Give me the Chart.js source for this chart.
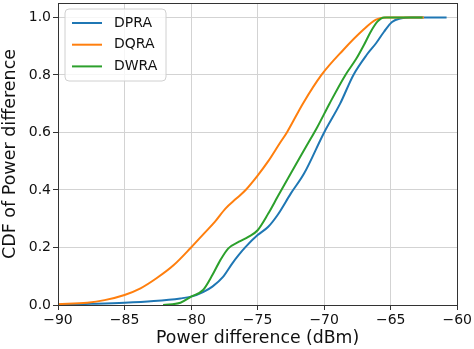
<!DOCTYPE html>
<html>
<head>
<meta charset="utf-8">
<script src="https://cdn.jsdelivr.net/npm/chart.js@4.4.1/dist/chart.umd.min.js"></script>
<style>
  html, body { margin: 0; padding: 0; background: #fff; }
  #cdfChart { display: block; }
</style>
</head>
<body>
<canvas id="cdfChart" width="474" height="349"></canvas>
<script>
// CDF curves (power difference in dBm -> cumulative fraction)
const seriesNames = ["DPRA", "DQRA", "DWRA"];
const seriesColors = ["#1f77b4", "#ff7f0e", "#2ca02c"];

const dpraX = [-90, -87.5, -85, -82.8, -80.8, -80, -79.1, -78.4, -77.6, -76.9, -76.4, -75.9, -75, -74.2, -73.5, -72.5, -71.5, -70, -68.8, -67.8, -66.8, -66.1, -65.5, -64.9, -64.2, -63.5, -60.8];
const dpraY = [0.001, 0.004, 0.008, 0.014, 0.023, 0.029, 0.045, 0.064, 0.098, 0.145, 0.175, 0.202, 0.243, 0.272, 0.313, 0.388, 0.458, 0.60, 0.70, 0.80, 0.87, 0.91, 0.95, 0.984, 0.997, 1.0, 1.0];

const dqraX = [-90, -87.8, -86.5, -85, -83.8, -82.6, -81.3, -80, -79, -78.2, -77.4, -76.6, -75.9, -75, -74.2, -73.3, -72.8, -71.6, -70.2, -68.6, -67.1, -66.1, -65.3, -62.5];
const dqraY = [0.003, 0.008, 0.017, 0.035, 0.058, 0.093, 0.139, 0.2, 0.25, 0.29, 0.336, 0.37, 0.40, 0.45, 0.50, 0.565, 0.60, 0.70, 0.80, 0.885, 0.955, 0.992, 1.0, 1.0];

const dwraX = [-82.1, -80.8, -80, -79.1, -78.4, -77.8, -77.2, -76.4, -75.7, -75, -74.2, -73.5, -72.5, -71.3, -70.5, -69.6, -68.4, -67.6, -67.0, -66.5, -66.0, -65.5, -62.6];
const dwraY = [0, 0.008, 0.029, 0.052, 0.104, 0.156, 0.197, 0.22, 0.237, 0.26, 0.318, 0.376, 0.458, 0.555, 0.62, 0.70, 0.80, 0.855, 0.905, 0.95, 0.985, 1.0, 1.0];

const xTicks = [-90, -85, -80, -75, -70, -65, -60];
const yTicks = [0, 0.2, 0.4, 0.6, 0.8, 1.0];

const FONT = "'DejaVu Sans', sans-serif";
const TEXT = "#111";

function points(xs, ys) {
  return xs.map((x, i) => ({ x: x, y: ys[i] }));
}

// plot frame on top/right plus a boxed legend in the upper left corner
const frameAndLegend = {
  id: "frameAndLegend",
  afterDatasetsDraw(chart) {
    const ctx = chart.ctx;
    const a = chart.chartArea;
    ctx.save();
    ctx.strokeStyle = "#333";
    ctx.lineWidth = 1;
    ctx.strokeRect(Math.round(a.left) + 0.5, Math.round(a.top) + 0.5,
      Math.round(a.right - a.left), Math.round(a.bottom - a.top));

    const bx = a.left + 7, by = a.top + 6, bw = 101, bh = 72, r = 4;
    ctx.beginPath();
    ctx.moveTo(bx + r, by);
    ctx.arcTo(bx + bw, by, bx + bw, by + bh, r);
    ctx.arcTo(bx + bw, by + bh, bx, by + bh, r);
    ctx.arcTo(bx, by + bh, bx, by, r);
    ctx.arcTo(bx, by, bx + bw, by, r);
    ctx.closePath();
    ctx.fillStyle = "rgba(255,255,255,0.8)";
    ctx.fill();
    ctx.strokeStyle = "#d0d0d0";
    ctx.stroke();

    ctx.font = "14px " + FONT;
    ctx.textBaseline = "middle";
    chart.data.datasets.forEach((ds, i) => {
      const y = by + 14 + i * 21.7;
      ctx.strokeStyle = ds.borderColor;
      ctx.lineWidth = 2;
      ctx.beginPath();
      ctx.moveTo(bx + 7, y);
      ctx.lineTo(bx + 37, y);
      ctx.stroke();
      ctx.fillStyle = TEXT;
      ctx.fillText(ds.label, bx + 49, y);
    });
    ctx.restore();
  }
};

const ctx = document.getElementById("cdfChart").getContext("2d");
new Chart(ctx, {
  type: "line",
  data: {
    datasets: [
      { label: seriesNames[0], data: points(dpraX, dpraY), borderColor: seriesColors[0], order: 3 },
      { label: seriesNames[1], data: points(dqraX, dqraY), borderColor: seriesColors[1], order: 2 },
      { label: seriesNames[2], data: points(dwraX, dwraY), borderColor: seriesColors[2], order: 1 }
    ]
  },
  options: {
    responsive: false,
    animation: false,
    layout: { padding: { top: 3, right: 15, left: 0, bottom: 0 } },
    elements: {
      line: { borderWidth: 2, cubicInterpolationMode: "monotone", fill: false },
      point: { radius: 0 }
    },
    plugins: { legend: { display: false }, tooltip: { enabled: false } },
    scales: {
      x: {
        type: "linear",
        min: -90,
        max: -60,
        afterBuildTicks: s => { s.ticks = xTicks.map(v => ({ value: v })); },
        afterFit: s => { s.height = 44; },
        ticks: {
          color: TEXT,
          font: { family: FONT, size: 14 },
          padding: 2,
          maxRotation: 0,
          callback: v => String(v).replace("-", "\u2212")
        },
        grid: { color: "#d3d3d3", tickColor: "#333", tickLength: 5 },
        border: { color: "#333" },
        title: {
          display: true,
          text: "Power difference (dBm)",
          color: TEXT,
          font: { family: FONT, size: 17.3 },
          padding: { top: 1, bottom: 0 }
        }
      },
      y: {
        min: 0,
        max: 1.05,
        afterBuildTicks: s => { s.ticks = yTicks.map(v => ({ value: v })); },
        afterFit: s => { s.width = 58; s.paddingTop = 0; s.paddingBottom = 0; },
        ticks: {
          color: TEXT,
          font: { family: FONT, size: 14 },
          padding: 2,
          callback: v => v.toFixed(1)
        },
        grid: { color: "#d3d3d3", tickColor: "#333", tickLength: 5 },
        border: { color: "#333" },
        title: {
          display: true,
          text: "CDF of Power difference",
          color: TEXT,
          font: { family: FONT, size: 17.5 },
          padding: { top: 0, bottom: 2 }
        }
      }
    }
  },
  plugins: [frameAndLegend]
});
</script>
</body>
</html>
